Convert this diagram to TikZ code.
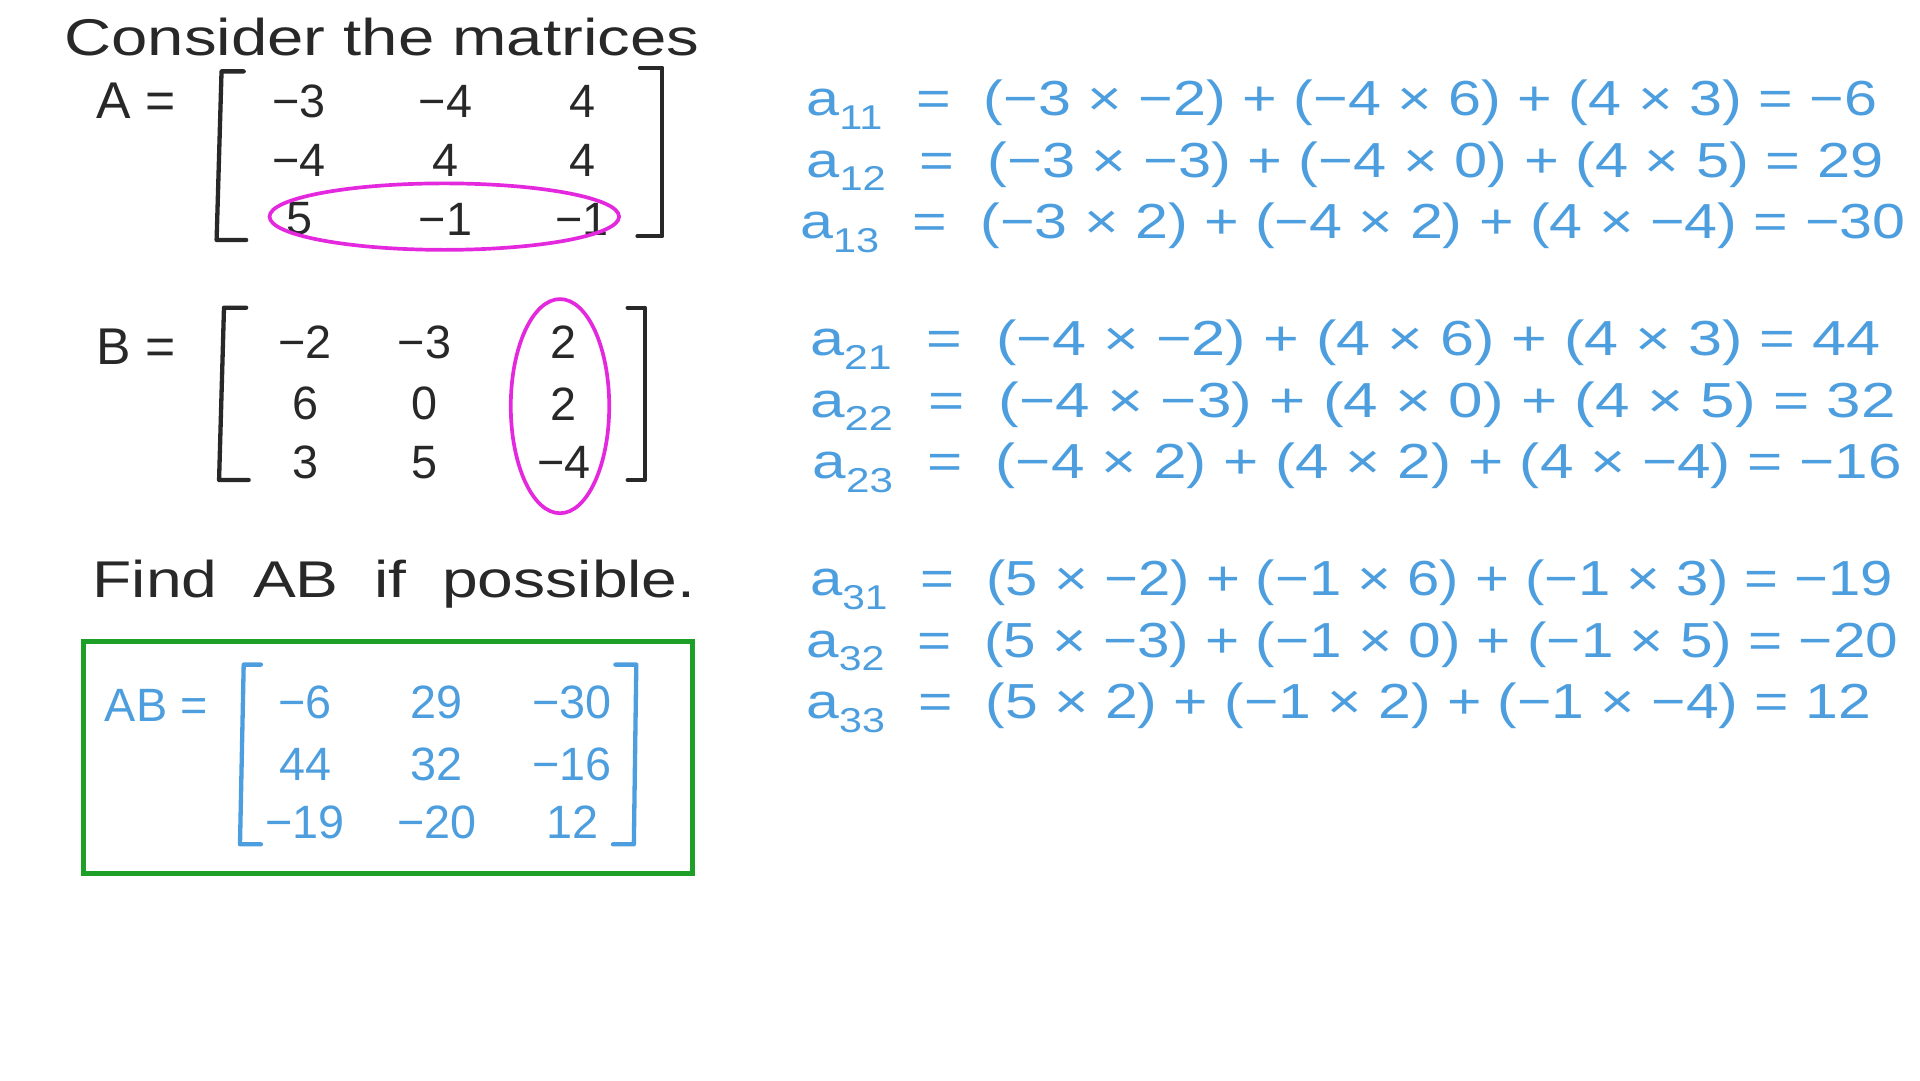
\documentclass[tikz,border=0pt]{standalone}
\usepackage{fontspec}
\usepackage{graphicx}
\setmainfont{Liberation Sans}
\definecolor{bl}{RGB}{77,158,222}
\definecolor{pk}{RGB}{228,40,222}
\definecolor{gr}{RGB}{30,160,40}
\definecolor{ink}{RGB}{40,40,40}
\begin{document}
\begin{tikzpicture}[x=1pt,y=-1pt,
  txt/.style={font=\fontsize{42}{46}\selectfont,text=ink,inner sep=0},
  ent/.style={font=\fontsize{38}{42}\selectfont,inner sep=0},
  eq/.style={font=\fontsize{40}{44}\selectfont,text=bl,inner sep=0,anchor=west},
  brk/.style={line width=3.5pt,line cap=round,line join=round}]
\useasboundingbox (0,0) rectangle (1560,878);
\node[txt,anchor=west] (t1) at (52,30) {\resizebox{516pt}{\height}{Consider the matrices}};
\node[txt,anchor=west] (la) at (78,82) {A =};
\draw[brk,ink] (198,58) -- (180,58) -- (176,195) -- (200,195);
\draw[brk,ink] (520,55) -- (538,55) -- (538,192) -- (518,192);
\foreach \r/\y/\a/\b/\c in {1/82/−3/−4/4,2/130/−4/4/4,3/178/5/−1/−1}{
  \node[ent,text=ink] (a\r1) at (243,\y) {\a};
  \node[ent,text=ink] (a\r2) at (362,\y) {\b};
  \node[ent,text=ink] (a\r3) at (473,\y) {\c};}
\draw[pk,line width=3pt] (361,176) ellipse [x radius=142,y radius=27];
\node[txt,anchor=west] (lb) at (78,282) {B =};
\draw[brk,ink] (200,250) -- (182,250) -- (178,390) -- (202,390);
\draw[brk,ink] (510,250) -- (524,250) -- (524,390) -- (510,390);
\foreach \r/\y/\a/\b/\c in {1/278/−2/−3/2,2/328/6/0/2,3/376/3/5/−4}{
  \node[ent,text=ink] (b\r1) at (248,\y) {\a};
  \node[ent,text=ink] (b\r2) at (345,\y) {\b};
  \node[ent,text=ink] (b\r3) at (458,\y) {\c};}
\draw[pk,line width=3pt] (455,330) ellipse [x radius=40,y radius=87];
\node[txt,anchor=west] (fd) at (75,475) {\resizebox{490pt}{\height}{Find\ \ AB\ \ if\ \ possible.}};
\draw[gr,line width=4pt] (68,521) rectangle (563,710);
\node[ent,text=bl,anchor=west] (lab) at (85,573) {AB =};
\draw[brk,bl] (212,540) -- (198,540) -- (195,686) -- (212,686);
\draw[brk,bl] (500,540) -- (517,540) -- (515,686) -- (498,686);
\foreach \r/\y/\a/\b/\c in {1/571/−6/29/−30,2/621/44/32/−16,3/668/−19/−20/12}{
  \node[ent,text=bl] (c\r1) at (248,\y) {\a};
  \node[ent,text=bl] (c\r2) at (355,\y) {\b};
  \node[ent,text=bl] (c\r3) at (465,\y) {\c};}
\newcommand\E[3]{\resizebox{#3pt}{\height}{a\textsubscript{#1}\ \ =\ \ #2}}
\node[eq] (e11) at (655,85) {\E{11}{(−3 × −2) + (−4 × 6) + (4 × 3) = −6}{870}};
\node[eq] (e12) at (655,135) {\E{12}{(−3 × −3) + (−4 × 0) + (4 × 5) = 29}{875}};
\node[eq] (e13) at (650,185) {\E{13}{(−3 × 2) + (−4 × 2) + (4 × −4) = −30}{898}};
\node[eq] (e21) at (658,280) {\E{21}{(−4 × −2) + (4 × 6) + (4 × 3) = 44}{870}};
\node[eq] (e22) at (658,330) {\E{22}{(−4 × −3) + (4 × 0) + (4 × 5) = 32}{882}};
\node[eq] (e23) at (660,380) {\E{23}{(−4 × 2) + (4 × 2) + (4 × −4) = −16}{885}};
\node[eq] (e31) at (658,475) {\E{31}{(5 × −2) + (−1 × 6) + (−1 × 3) = −19}{880}};
\node[eq] (e32) at (655,525) {\E{32}{(5 × −3) + (−1 × 0) + (−1 × 5) = −20}{887}};
\node[eq] (e33) at (655,575) {\E{33}{(5 × 2) + (−1 × 2) + (−1 × −4) = 12}{865}};
\end{tikzpicture}
\end{document}
